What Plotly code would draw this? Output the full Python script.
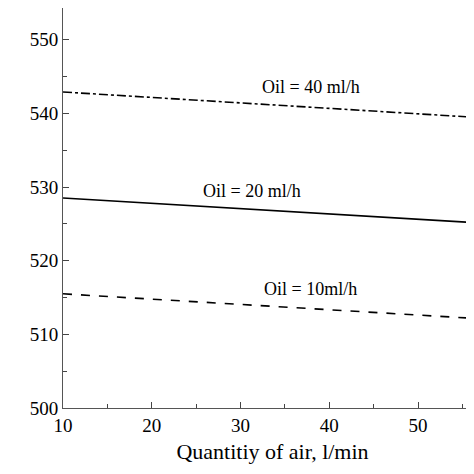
import plotly.graph_objects as go

air = [10, 57.2]
oil40 = [542.9, 539.4]
oil20 = [528.5, 525.1]
oil10 = [515.5, 512.1]

fig = go.Figure()
fig.add_trace(go.Scatter(x=air, y=oil40, mode="lines", line=dict(color="black", width=1.6, dash="dashdot")))
fig.add_trace(go.Scatter(x=air, y=oil20, mode="lines", line=dict(color="black", width=1.6)))
fig.add_trace(go.Scatter(x=air, y=oil10, mode="lines", line=dict(color="black", width=1.6, dash="dash")))

for x, y, t in [(37.9, 543.6, "Oil = 40 ml/h"), (31.3, 529.4, "Oil = 20 ml/h"), (37.9, 516.2, "Oil = 10ml/h")]:
    fig.add_annotation(x=x, y=y, text=t, showarrow=False, font=dict(size=18, color="black"))

fig.update_xaxes(range=[10, 57.2], tickvals=[10, 20, 30, 40, 50], ticks="inside", ticklen=6,
                 minor=dict(ticks="inside", ticklen=4, dtick=5, tick0=0),
                 showline=True, linecolor="#555", showgrid=False, zeroline=False,
                 tickfont=dict(size=19),
                 title=dict(text="Quantitiy of air, l/min", standoff=8))
fig.update_yaxes(range=[500, 554.3], tickvals=[500, 510, 520, 530, 540, 550], ticks="inside", ticklen=6,
                 minor=dict(ticks="inside", ticklen=4, dtick=5, tick0=0),
                 showline=True, linecolor="#555", showgrid=False, zeroline=False,
                 tickfont=dict(size=19))
fig.update_layout(width=474, height=474, margin=dict(l=55, r=0, t=0, b=74),
                  plot_bgcolor="white", paper_bgcolor="white", showlegend=False,
                  font=dict(family="Liberation Serif", size=18, color="black"))
fig.write_html("out.html")
